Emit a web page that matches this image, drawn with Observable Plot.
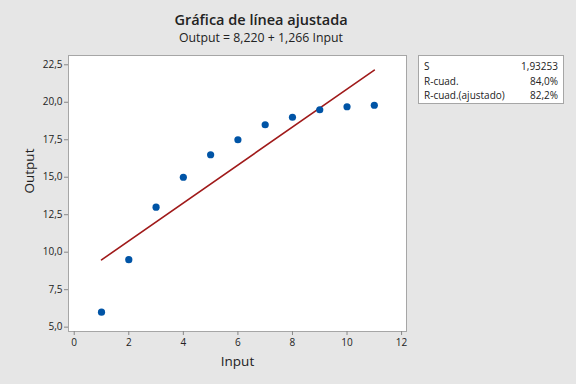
<!DOCTYPE html>
<html>
<head>
<meta charset="utf-8">
<script src="https://cdn.jsdelivr.net/npm/d3@7"></script>
<script src="https://cdn.jsdelivr.net/npm/@observablehq/plot@0.6"></script>
<style>
  html, body { margin: 0; padding: 0; }
  body { width: 576px; height: 384px; overflow: hidden; }
  #wrap { position: relative; width: 576px; height: 384px; background: #e6e6e6; font-family: "Open Sans", "Noto Sans", sans-serif; color: #222; }
  #wrap svg { position: absolute; left: 0; top: 0; }
  .title { position: absolute; left: 0; width: 522px; text-align: center; white-space: nowrap; }
  #t1 { top: 12px; font-size: 14.5px; line-height: 16px; font-weight: 600; }
  #t2 { top: 31px; font-size: 12.3px; line-height: 14px; }
  #stats { position: absolute; left: 418px; top: 55px; width: 144px; height: 47px; background: #fff; border: 1px solid #a6a6a6; font-size: 10px; }
  .row { position: absolute; left: 5px; right: 5px; height: 14px; line-height: 14px; }
  .row .v { position: absolute; right: 0; top: 0; }
</style>
</head>
<body>
<div id="wrap">
  <div class="title" id="t1"></div>
  <div class="title" id="t2"></div>
  <div id="stats"></div>
</div>
<script>
const titleText = "Gráfica de línea ajustada";
const subtitleText = "Output = 8,220 + 1,266 Input";
const inputX = [1, 2, 3, 4, 5, 6, 7, 8, 9, 10, 11];
const outputY = [6.0, 9.5, 13.0, 15.0, 16.5, 17.5, 18.5, 19.0, 19.5, 19.7, 19.8];
const intercept = 8.220;
const slope = 1.266;
const xTicks = [0, 2, 4, 6, 8, 10, 12];
const yTicks = [5.0, 7.5, 10.0, 12.5, 15.0, 17.5, 20.0, 22.5];
const yTickLabels = ["5,0", "7,5", "10,0", "12,5", "15,0", "17,5", "20,0", "22,5"];
const statLabels = ["S", "R-cuad.", "R-cuad.(ajustado)"];
const statValues = ["1,93253", "84,0%", "82,2%"];

document.getElementById("t1").textContent = titleText;
document.getElementById("t2").textContent = subtitleText;
const stats = document.getElementById("stats");
statLabels.forEach((l, i) => {
  const r = document.createElement("div");
  r.className = "row";
  r.style.top = (3 + i * 14.5) + "px";
  r.innerHTML = `<span></span><span class="v"></span>`;
  r.children[0].textContent = l;
  r.children[1].textContent = statValues[i];
  stats.appendChild(r);
});

const points = inputX.map((x, i) => ({x, y: outputY[i]}));
const xMin = d3.min(inputX), xMax = d3.max(inputX);
const fit = [{x: xMin, y: intercept + slope * xMin}, {x: xMax, y: intercept + slope * xMax}];

const chart = Plot.plot({
  width: 576,
  height: 384,
  marginLeft: 68,
  marginRight: 170,
  marginTop: 55,
  marginBottom: 53,
  style: {background: "transparent", fontFamily: "'Open Sans', 'Noto Sans', sans-serif", color: "#222"},
  x: {domain: [-0.21, 12.18]},
  y: {domain: [4.71, 23.12]},
  marks: [
    Plot.frame({fill: "#fff", stroke: "#a6a6a6"}),
    Plot.axisX({ticks: xTicks, tickSize: 4, tickPadding: 3, fontSize: 10, stroke: "#888", fill: "#222", label: null}),
    Plot.axisY({ticks: yTicks, tickFormat: (d) => yTickLabels[yTicks.indexOf(d)], tickSize: 4, tickPadding: 2, fontSize: 10, stroke: "#888", fill: "#222", label: null}),
    Plot.text(["Input"], {frameAnchor: "bottom", dy: 34, fontSize: 13.5, fill: "#222"}),
    Plot.text(["Output"], {frameAnchor: "left", dx: -39, rotate: -90, fontSize: 13.5, fill: "#222"}),
    Plot.line(fit, {x: "x", y: "y", stroke: "#a01a1a", strokeWidth: 1.6}),
    Plot.dot(points, {x: "x", y: "y", r: 3.6, fill: "#0054a6", stroke: "none"})
  ]
});
document.getElementById("wrap").insertBefore(chart, document.getElementById("t1"));
</script>
</body>
</html>
